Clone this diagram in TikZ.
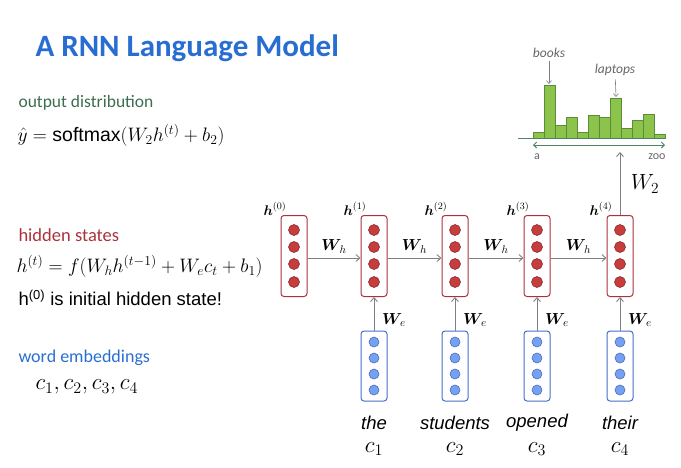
\RequirePackage{fix-cm}
\documentclass[tikz,border=0pt]{standalone}
\usepackage{fontspec}
\usepackage{amsmath}
\setmainfont{Latin Modern Roman}
\newfontfamily\carl{Carlito}
\newfontfamily\ari{Liberation Sans}
\usetikzlibrary{arrows.meta}
\definecolor{hred}{RGB}{170,50,60}
\definecolor{hfill}{RGB}{200,60,60}
\definecolor{eblue}{RGB}{70,110,200}
\definecolor{efill}{RGB}{120,160,240}
\definecolor{tblue}{RGB}{40,110,210}
\definecolor{tgreen}{RGB}{60,110,80}
\definecolor{bargreen}{RGB}{140,195,75}
\definecolor{bardark}{RGB}{90,140,60}
\definecolor{axis}{RGB}{80,130,100}
\begin{document}
\begin{tikzpicture}[x=1pt,y=-1pt,
 hbox/.style={draw=hred,line width=1pt,rounded corners=3pt,minimum width=26pt,minimum height=81pt,inner sep=0pt},
 ebox/.style={draw=eblue,line width=1pt,rounded corners=3pt,minimum width=26pt,minimum height=70pt,inner sep=0pt},
 hc/.style={circle,draw=hred!70!black,fill=hfill,minimum size=11pt,inner sep=0pt,line width=0.5pt},
 ec/.style={circle,draw=eblue,fill=efill,minimum size=10pt,inner sep=0pt,line width=0.6pt},
 con/.style={draw=gray,line width=0.9pt,-{Straight Barb[length=4pt,width=7pt]}},
 bar/.style={draw=bardark,fill=bargreen,line width=0.6pt},
 wl/.style={font=\fontsize{16}{16}\selectfont},
 word/.style={font=\ari\itshape\fontsize{18.5}{18.5}\selectfont}]
\useasboundingbox (0,0) rectangle (681,467);
\node[anchor=west,text=tblue,font=\carl\bfseries\fontsize{31}{31}\selectfont] (title) at (32,48) {A RNN Language Model};
\node[anchor=west,text=tgreen,font=\carl\fontsize{17.5}{17.5}\selectfont] (od) at (15,103) {output distribution};
\node[anchor=west,font=\fontsize{19.5}{19.5}\selectfont] (f1) at (14,135) {$\hat{y}=\text{\ari softmax}(W_2h^{(t)}+b_2)$};
\node[anchor=west,text=hred,font=\carl\fontsize{18.5}{18.5}\selectfont] (hs) at (15,235) {hidden states};
\node[anchor=west,font=\fontsize{19.5}{19.5}\selectfont] (f2) at (13,266) {$h^{(t)}=f(W_hh^{(t-1)}+W_ec_t+b_1)$};
\node[anchor=west,font=\ari\fontsize{18.5}{18.5}\selectfont] (f3) at (15,298) {h$^{\text{(0)}}$ is initial hidden state!};
\node[anchor=west,text=tblue,font=\carl\fontsize{18}{18}\selectfont] (we) at (15,358) {word embeddings};
\node[anchor=west,font=\fontsize{23}{23}\selectfont] (f4) at (32,387) {$c_1,c_2,c_3,c_4$};
% hidden
\foreach \i/\x in {0/294,1/374,2/455,3/537,4/620}{
 \node[hbox] (h\i) at (\x,256) {};
 \foreach \y in {230,247,264,282} \node[hc] at (\x,\y) {};
 \node[font=\fontsize{14}{14}\selectfont] at (\x-19,209) {$\boldsymbol{h}^{(\i)}$};
}
\foreach \i/\x/\w in {1/374/the,2/455/students,3/537/opened,4/620/their}{
 \node[ebox] (e\i) at (\x,366) {};
 \foreach \y in {342,358,374,390} \node[ec] at (\x,\y) {};
 \draw[con] (e\i) -- (h\i);
 \node[wl] at (\x+20,320) {$\boldsymbol{W}_{\!e}$};
 \node[word] at (\x,423) {\w};
 \node[font=\fontsize{23}{23}\selectfont] at (\x,449) {$c_\i$};
}
\foreach \a/\b in {0/1,1/2,2/3,3/4}{
 \draw[con] (h\a.east |- 0,258) -- (h\b.west |- 0,258) node[midway,above=1pt,wl] {$\boldsymbol{W}_{\!h}$};
}
% histogram
\coordinate (top) at (620,152);
\draw[con] (h4) -- (top);
\node[font=\fontsize{22}{22}\selectfont] at (645,184) {$W_2$};
\foreach \t [count=\k from 0] in {132,85,125,117,132,115,117,98,128,120,114,134}
 \draw[bar] (533+11*\k,138) rectangle (544+11*\k,\t);
\draw[axis,line width=1pt] (518,138) -- (666,138);
\coordinate (aa) at (533,145); \coordinate (zz) at (665,145);
\draw[axis,line width=1pt,{Straight Barb[length=3pt,width=6pt]}-{Straight Barb[length=3pt,width=6pt]}] (aa) -- (zz);
\node[text=gray!80!black,font=\carl\fontsize{12}{12}\selectfont] at (537,157) {a};
\node[text=gray!80!black,font=\carl\fontsize{12}{12}\selectfont] at (657,157) {zoo};
\node[text=gray!80!black,font=\carl\itshape\fontsize{13.5}{13.5}\selectfont] (bk) at (549,53) {books};
\node[text=gray!80!black,font=\carl\itshape\fontsize{13.5}{13.5}\selectfont] (lp) at (615,70) {laptops};
\coordinate (bkt) at (549,84); \coordinate (lpt) at (616,97);
\draw[gray,line width=0.6pt,-{Straight Barb[length=3pt,width=5pt]}] (bk) -- (bkt);
\draw[gray,line width=0.6pt,-{Straight Barb[length=3pt,width=5pt]}] (lp) -- (lpt);
\end{tikzpicture}
\end{document}
